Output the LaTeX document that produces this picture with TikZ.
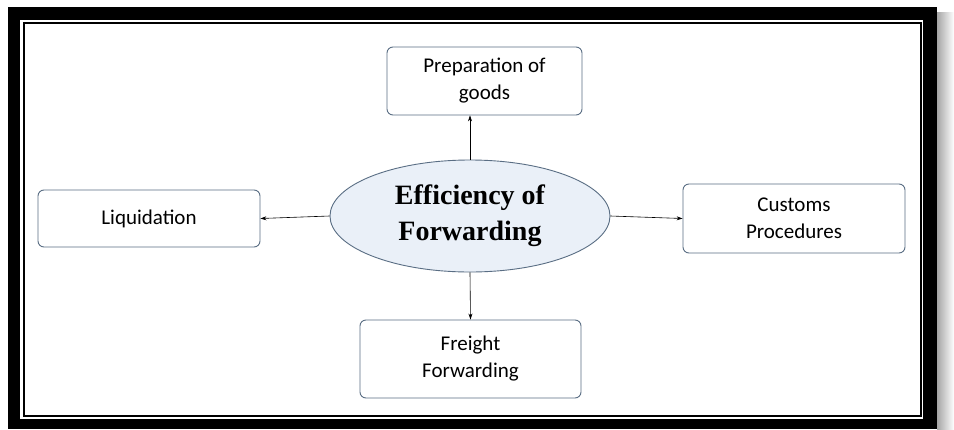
\documentclass[tikz,border=0pt]{standalone}
\usepackage{fontspec}
\setmainfont{Liberation Serif}
\newfontfamily\boxfont{Carlito}
\usetikzlibrary{shapes.geometric,arrows.meta}
\definecolor{boxline}{HTML}{5A6E84}
\definecolor{ellfill}{HTML}{EAF0F8}
\begin{document}
\begin{tikzpicture}[x=1pt,y=-1pt,
  box/.style={draw=boxline,line width=0.9pt,rounded corners=6pt,fill=white,align=center,font=\boxfont\fontsize{21}{27}\selectfont,inner sep=0pt},
  arr/.style={-{Stealth[length=6pt,width=4pt]},line width=0.6pt}]
\useasboundingbox (0,0) rectangle (954,429);
\fill[white] (0,0) rectangle (954,429);
\shade[left color=gray!70,right color=white] (937,12) rectangle (954,429);
\fill[black] (8,7) rectangle (937,429);
\fill[white] (20,20) rectangle (923,419);
\draw[line width=1.4pt] (24,23) rectangle (921,416);
\node[box,minimum width=195pt,minimum height=68pt] (prep) at (484.5,81) {Preparation of\\goods};
\node[box,minimum width=222pt,minimum height=57pt] (liq) at (149,218.5) {Liquidation};
\node[box,minimum width=222pt,minimum height=69pt] (cust) at (794,218.5) {Customs\\Procedures};
\node[box,minimum width=221pt,minimum height=78pt] (frei) at (470.5,359) {Freight\\Forwarding};
\node[ellipse,draw=boxline,line width=0.9pt,fill=ellfill,minimum width=280pt,minimum height=112pt,align=center,font=\bfseries\fontsize{28}{36}\selectfont] (eff) at (470,216) {Efficiency of\\Forwarding};
\draw[arr] (eff.north) -- (eff.north |- prep.south);
\draw[arr] (eff.west) -- (liq.east);
\draw[arr] (eff.east) -- (cust.west);
\draw[arr] (eff.south) -- (frei.north);
\end{tikzpicture}
\end{document}
